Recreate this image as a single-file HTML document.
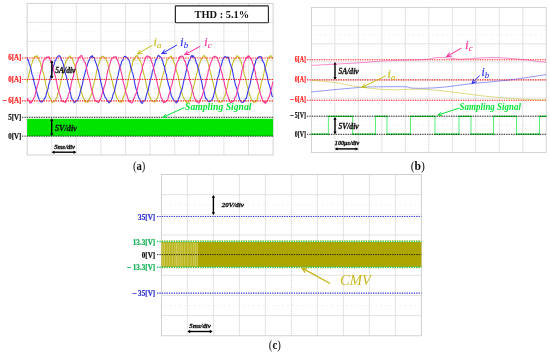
<!DOCTYPE html>
<html><head><meta charset="utf-8"><title>Figure</title>
<style>
html,body{margin:0;padding:0;background:#fff;}
body{width:550px;height:355px;overflow:hidden;}
svg{display:block;font-family:"Liberation Serif","DejaVu Serif",serif;}
</style></head><body>
<svg width="550" height="355" viewBox="0 0 550 355">
<rect width="550" height="355" fill="#fff"/>
<line x1="51.7" y1="3.4" x2="51.7" y2="155" stroke="#dcdcdc" stroke-width="0.8"/>
<line x1="76.3" y1="3.4" x2="76.3" y2="155" stroke="#dcdcdc" stroke-width="0.8"/>
<line x1="100.9" y1="3.4" x2="100.9" y2="155" stroke="#dcdcdc" stroke-width="0.8"/>
<line x1="125.5" y1="3.4" x2="125.5" y2="155" stroke="#dcdcdc" stroke-width="0.8"/>
<line x1="150.1" y1="3.4" x2="150.1" y2="155" stroke="#bcbcbc" stroke-width="0.8" stroke-dasharray="1.1 1.1"/>
<line x1="174.7" y1="3.4" x2="174.7" y2="155" stroke="#dcdcdc" stroke-width="0.8"/>
<line x1="199.3" y1="3.4" x2="199.3" y2="155" stroke="#dcdcdc" stroke-width="0.8"/>
<line x1="223.9" y1="3.4" x2="223.9" y2="155" stroke="#dcdcdc" stroke-width="0.8"/>
<line x1="248.5" y1="3.4" x2="248.5" y2="155" stroke="#dcdcdc" stroke-width="0.8"/>
<line x1="27.1" y1="22.35" x2="273.1" y2="22.35" stroke="#dcdcdc" stroke-width="0.8"/>
<line x1="27.1" y1="41.3" x2="273.1" y2="41.3" stroke="#dcdcdc" stroke-width="0.8"/>
<line x1="27.1" y1="60.25" x2="273.1" y2="60.25" stroke="#dcdcdc" stroke-width="0.8"/>
<line x1="27.1" y1="79.2" x2="273.1" y2="79.2" stroke="#dcdcdc" stroke-width="0.8"/>
<line x1="27.1" y1="98.15" x2="273.1" y2="98.15" stroke="#dcdcdc" stroke-width="0.8"/>
<line x1="27.1" y1="117.1" x2="273.1" y2="117.1" stroke="#dcdcdc" stroke-width="0.8"/>
<line x1="27.1" y1="136.05" x2="273.1" y2="136.05" stroke="#dcdcdc" stroke-width="0.8"/>
<line x1="30.1" y1="31.82" x2="270.1" y2="31.82" stroke="#ededed" stroke-width="0.7" stroke-dasharray="2 2.9"/>
<line x1="30.1" y1="126.58" x2="270.1" y2="126.58" stroke="#ededed" stroke-width="0.7" stroke-dasharray="2 2.9"/>
<rect x="27.1" y="3.4" width="246" height="151.6" fill="none" stroke="#cccccc" stroke-width="0.9"/>
<rect x="27.1" y="118.8" width="246" height="17.4" fill="#00e400"/>
<polyline points="27.1,82.46 27.8,79.07 28.5,77.16 29.2,72.91 29.9,71.05 30.6,67.94 31.3,64.72 32,63.4 32.7,60.33 33.4,59.47 34.1,57.28 34.8,56.3 35.5,56.39 36.2,57.02 36.9,55.62 37.6,56.37 38.3,58.18 39,60.17 39.7,60.99 40.4,62.54 41.1,66.06 41.8,66.49 42.5,70.96 43.2,72.56 43.9,75.19 44.6,78.14 45.3,81.57 46,85.65 46.7,87.12 47.4,90.73 48.1,93.39 48.8,95.09 49.5,97.49 50.2,98.13 50.9,99.49 51.6,100.81 52.3,102.47 53,102.14 53.7,101.72 54.4,101.75 55.1,100.52 55.8,98.87 56.5,98.3 57.2,96.12 57.9,92.86 58.6,91.09 59.3,88.28 60,86.2 60.7,82.92 61.4,78.94 62.1,77.45 62.8,72.59 63.5,70.39 64.2,68.43 64.9,64.58 65.6,63.05 66.3,60.07 67,59.77 67.7,58.64 68.4,57.25 69.1,57.32 69.8,55.89 70.5,56.93 71.2,57.3 71.9,58.24 72.6,59.3 73.3,61.83 74,64.05 74.7,65.29 75.4,68.22 76.1,69.61 76.8,73.88 77.5,76.72 78.2,80.49 78.9,83.13 79.6,84.9 80.3,87.97 81,91.3 81.7,92.37 82.4,95.59 83.1,96.92 83.8,98.47 84.5,99.65 85.2,102.16 85.9,101.31 86.6,101.74 87.3,101.83 88,102.27 88.7,99.53 89.4,98.98 90.1,97.5 90.8,96.22 91.5,93.78 92.2,91.35 92.9,87.34 93.6,84.77 94.3,81.68 95,79.82 95.7,76.98 96.4,72.25 97.1,69.46 97.8,66.9 98.5,64.42 99.2,62.74 99.9,61.02 100.6,58.66 101.3,56.81 102,56.8 102.7,56.16 103.4,56.45 104.1,57.56 104.8,57.62 105.5,58.26 106.2,59.88 106.9,61.73 107.6,62.4 108.3,66.57 109,68.85 109.7,71.8 110.4,74.51 111.1,76.59 111.8,79.62 112.5,81.97 113.2,86.08 113.9,87.66 114.6,90.34 115.3,93.12 116,95.23 116.7,97.56 117.4,98.53 118.1,99.68 118.8,100.9 119.5,101.3 120.2,101.99 120.9,100.96 121.6,102.16 122.3,100.53 123,98.1 123.7,96.57 124.4,94.72 125.1,92.43 125.8,89.34 126.5,88.19 127.2,85.62 127.9,81.49 128.6,78.51 129.3,74.63 130,71.73 130.7,69.43 131.4,66.6 132.1,65.4 132.8,61.73 133.5,59.52 134.2,59.97 134.9,57.81 135.6,56.1 136.3,56.5 137,55.28 137.7,56.69 138.4,58.38 139.1,59.21 139.8,60.28 140.5,61.09 141.2,63.4 141.9,65.31 142.6,69.22 143.3,71.45 144,74.89 144.7,76.88 145.4,79.66 146.1,83.96 146.8,87.27 147.5,89.79 148.2,92.33 148.9,94.79 149.6,96.8 150.3,97.56 151,99.76 151.7,100.61 152.4,100.73 153.1,101.18 153.8,101.79 154.5,101.41 155.2,101.63 155.9,101.11 156.6,98.52 157.3,97.8 158,95.82 158.7,93.38 159.4,89.49 160.1,86.4 160.8,83.52 161.5,80.46 162.2,77.46 162.9,75.39 163.6,73.07 164.3,70.14 165,66.71 165.7,64.68 166.4,62.84 167.1,59.41 167.8,59.14 168.5,58.5 169.2,57.41 169.9,56.92 170.6,56.29 171.3,56 172,58.1 172.7,58.22 173.4,60.74 174.1,62.94 174.8,63.79 175.5,66.18 176.2,69.99 176.9,72.28 177.6,73.97 178.3,76.86 179,79.93 179.7,84.59 180.4,87.29 181.1,88.63 181.8,92.74 182.5,95.48 183.2,96.91 183.9,98.07 184.6,100.02 185.3,100.26 186,100.79 186.7,103.29 187.4,102.58 188.1,101.91 188.8,102.03 189.5,99.77 190.2,99.22 190.9,97.28 191.6,93.79 192.3,91.48 193,88.95 193.7,86.04 194.4,83.88 195.1,80.17 195.8,77.51 196.5,73.88 197.2,72.69 197.9,68.68 198.6,66.31 199.3,64.2 200,62.79 200.7,59.9 201.4,59.51 202.1,57.46 202.8,56.77 203.5,56.39 204.2,55.31 204.9,56.66 205.6,56.9 206.3,57.69 207,60.98 207.7,61.46 208.4,64.28 209.1,67.25 209.8,69.51 210.5,71.81 211.2,75.16 211.9,78.24 212.6,81.76 213.3,83.25 214,87.15 214.7,89.24 215.4,91.89 216.1,95.34 216.8,96.86 217.5,98.77 218.2,100.67 218.9,102.11 219.6,101.81 220.3,102.52 221,102.23 221.7,101.79 222.4,101.35 223.1,99.61 223.8,98.23 224.5,96.22 225.2,95.06 225.9,92.1 226.6,89.84 227.3,87.17 228,82.74 228.7,80.4 229.4,78.23 230.1,75.02 230.8,70.58 231.5,67.79 232.2,65.92 232.9,62.76 233.6,61.05 234.3,58.91 235,58.78 235.7,57.95 236.4,57.5 237.1,55.56 237.8,56.88 238.5,57.23 239.2,56.96 239.9,59.82 240.6,61.6 241.3,61.86 242,65.67 242.7,66.9 243.4,69.75 244.1,73.68 244.8,76.27 245.5,77.8 246.2,81.41 246.9,84.57 247.6,87.07 248.3,89.5 249,92.33 249.7,95.55 250.4,96.06 251.1,98.99 251.8,100.15 252.5,100.27 253.2,101.64 253.9,102.56 254.6,102.2 255.3,100.71 256,101.85 256.7,100.15 257.4,98.95 258.1,95.11 258.8,93.24 259.5,90.28 260.2,89.24 260.9,85.28 261.6,82.03 262.3,79.67 263,77.73 263.7,74.55 264.4,70.44 265.1,67.47 265.8,66.62 266.5,63.54 267.2,61.79 267.9,58.72 268.6,57.26 269.3,57.62 270,56.39 270.7,55.36 271.4,57.41 272.1,57.28 272.8,58.56" fill="none" stroke="#c4bc18" stroke-width="1.1" stroke-linejoin="round" opacity="0.95"/>
<polyline points="27.1,57.15 27.8,60.18 28.5,60.13 29.2,63.87 29.9,65.25 30.6,67.51 31.3,70.69 32,74.37 32.7,75.89 33.4,78.59 34.1,82.48 34.8,84.8 35.5,87.37 36.2,90.18 36.9,92.43 37.6,95.02 38.3,97.24 39,98.88 39.7,101.19 40.4,101.1 41.1,102.13 41.8,101.59 42.5,101.74 43.2,100.39 43.9,99.91 44.6,98.03 45.3,97.9 46,95.48 46.7,92.4 47.4,90.49 48.1,88.78 48.8,84.09 49.5,82.69 50.2,78.83 50.9,75.96 51.6,73.75 52.3,69.94 53,67.5 53.7,65.42 54.4,63.83 55.1,60.47 55.8,59.92 56.5,58.35 57.2,57.28 57.9,56.24 58.6,55.97 59.3,55.58 60,56.39 60.7,57.29 61.4,60.15 62.1,60.81 62.8,62.64 63.5,64.78 64.2,68.99 64.9,71.79 65.6,74.23 66.3,76.34 67,79.27 67.7,82.39 68.4,85.7 69.1,87.87 69.8,91.18 70.5,93.24 71.2,96.99 71.9,98.95 72.6,99.62 73.3,100.22 74,102.7 74.7,101.76 75.4,101.98 76.1,100.91 76.8,101.07 77.5,100.23 78.2,98.87 78.9,96.46 79.6,95.07 80.3,91.64 81,89.65 81.7,86.52 82.4,84.32 83.1,80.55 83.8,77.49 84.5,75.11 85.2,72.02 85.9,69.97 86.6,67.19 87.3,65.22 88,62.82 88.7,61.04 89.4,59.81 90.1,57.5 90.8,56.5 91.5,57.47 92.2,55.54 92.9,57.12 93.6,57.64 94.3,57.4 95,60.58 95.7,62.48 96.4,63.98 97.1,66.56 97.8,69.31 98.5,70.58 99.2,74.32 99.9,77.26 100.6,81.01 101.3,83.94 102,86.92 102.7,89.2 103.4,92.52 104.1,94.5 104.8,96.7 105.5,97.56 106.2,98.69 106.9,100.12 107.6,101.46 108.3,101.35 109,103.01 109.7,102.06 110.4,101.49 111.1,100.38 111.8,99.04 112.5,96.82 113.2,93.65 113.9,93.03 114.6,90.34 115.3,87.03 116,84.19 116.7,81.48 117.4,77.16 118.1,75.64 118.8,71.65 119.5,68.45 120.2,66.24 120.9,64.85 121.6,61.54 122.3,60.85 123,59.83 123.7,57.59 124.4,56.53 125.1,56.32 125.8,56.74 126.5,57.29 127.2,57.72 127.9,58.91 128.6,59.15 129.3,61.12 130,63.48 130.7,66.93 131.4,68.57 132.1,71.93 132.8,73.62 133.5,76.72 134.2,80.19 134.9,84.07 135.6,87.04 136.3,89.79 137,91.56 137.7,94.46 138.4,96.48 139.1,98.33 139.8,99.07 140.5,101.94 141.2,101.19 141.9,103.3 142.6,103.21 143.3,100.79 144,100.98 144.7,100.62 145.4,99.43 146.1,96.45 146.8,93.91 147.5,91.38 148.2,90.38 148.9,85.98 149.6,83.87 150.3,79.91 151,77.74 151.7,75.69 152.4,70.98 153.1,69.71 153.8,66.42 154.5,64.87 155.2,62.35 155.9,59.49 156.6,59.47 157.3,57.43 158,55.66 158.7,55.24 159.4,56.35 160.1,56.68 160.8,57.16 161.5,57.99 162.2,59.98 162.9,61.78 163.6,65.09 164.3,65.66 165,69.94 165.7,72.94 166.4,74.28 167.1,79.05 167.8,81.6 168.5,85 169.2,86.56 169.9,89.51 170.6,92.14 171.3,95.84 172,97.04 172.7,98.33 173.4,99.94 174.1,100.71 174.8,100.94 175.5,101.4 176.2,102.95 176.9,101.3 177.6,101.89 178.3,99.17 179,97.64 179.7,96.3 180.4,93.41 181.1,91.38 181.8,90.02 182.5,87.05 183.2,83.96 183.9,80.56 184.6,78.16 185.3,75.24 186,71.49 186.7,69.1 187.4,65.05 188.1,64.21 188.8,61.51 189.5,60.4 190.2,58.72 190.9,56.86 191.6,55.63 192.3,57.26 193,55.58 193.7,56.82 194.4,57.4 195.1,58.54 195.8,61.09 196.5,63.52 197.2,64.14 197.9,67.47 198.6,69.34 199.3,72.73 200,75.31 200.7,77.81 201.4,80.82 202.1,83.9 202.8,88.32 203.5,90.17 204.2,92.12 204.9,95.95 205.6,98.21 206.3,98.76 207,99.49 207.7,100.66 208.4,101.11 209.1,101.94 209.8,101.28 210.5,101.1 211.2,100.25 211.9,99.67 212.6,98.76 213.3,96.53 214,93.57 214.7,91.11 215.4,88.68 216.1,85.52 216.8,82.49 217.5,78.88 218.2,76.33 218.9,74.88 219.6,70.15 220.3,68.25 221,65.98 221.7,64.18 222.4,60.72 223.1,59.12 223.8,57.68 224.5,56.98 225.2,56.44 225.9,57.3 226.6,57.21 227.3,57.8 228,56.85 228.7,58.16 229.4,61.28 230.1,63.64 230.8,64.95 231.5,67.68 232.2,69.08 232.9,72.78 233.6,76.91 234.3,79.69 235,82.77 235.7,86 236.4,87.27 237.1,89.69 237.8,92.32 238.5,95.42 239.2,97.79 239.9,100.06 240.6,100.94 241.3,101.78 242,102.66 242.7,102.21 243.4,102.24 244.1,100.55 244.8,101.24 245.5,98.72 246.2,98.57 246.9,96 247.6,92.99 248.3,90.11 249,87.68 249.7,85.67 250.4,82.85 251.1,78.55 251.8,75.45 252.5,73.49 253.2,70.76 253.9,67.62 254.6,64.74 255.3,63.3 256,60 256.7,58.96 257.4,57.97 258.1,58.1 258.8,56.82 259.5,57.14 260.2,56.44 260.9,56.5 261.6,57.5 262.3,60.41 263,61.53 263.7,62.65 264.4,64.3 265.1,67.86 265.8,70.96 266.5,73.26 267.2,75.86 267.9,79.78 268.6,83.35 269.3,84.77 270,87.2 270.7,90.57 271.4,93.25 272.1,96.08 272.8,96.99" fill="none" stroke="#2a2af2" stroke-width="1.1" stroke-linejoin="round" opacity="0.95"/>
<polyline points="27.1,98.04 27.8,99.62 28.5,100.47 29.2,100.81 29.9,103.11 30.6,101.88 31.3,102.83 32,100.97 32.7,100.01 33.4,99.88 34.1,97.2 34.8,96.67 35.5,93.41 36.2,90.24 36.9,87.62 37.6,85.19 38.3,82.78 39,80.4 39.7,75.62 40.4,73.2 41.1,69.94 41.8,68.91 42.5,64.56 43.2,62.09 43.9,60.11 44.6,59.16 45.3,58.94 46,57.93 46.7,57.01 47.4,57.39 48.1,57.45 48.8,56.71 49.5,57.37 50.2,60.36 50.9,61.62 51.6,62.04 52.3,65.71 53,67.6 53.7,70.3 54.4,73.06 55.1,75.67 55.8,78.31 56.5,81.93 57.2,85.05 57.9,89.23 58.6,90.1 59.3,94.44 60,95.03 60.7,97.34 61.4,100.02 62.1,101.33 62.8,101.42 63.5,101.14 64.2,102.24 64.9,101.79 65.6,102.38 66.3,99.78 67,98.79 67.7,98.26 68.4,94.34 69.1,92.88 69.8,91.24 70.5,88.41 71.2,83.95 71.9,80.97 72.6,78.01 73.3,76.89 74,72.48 74.7,70.72 75.4,68.37 76.1,64.65 76.8,62.27 77.5,61.83 78.2,59.44 78.9,57.38 79.6,57.46 80.3,56.04 81,55.81 81.7,55.47 82.4,57.77 83.1,59.15 83.8,59.91 84.5,62.32 85.2,62.34 85.9,65.11 86.6,68.18 87.3,71.98 88,74.85 88.7,76.57 89.4,79.29 90.1,82.69 90.8,85.77 91.5,89.56 92.2,90.6 92.9,94.43 93.6,96.5 94.3,98.62 95,100.12 95.7,101.01 96.4,101.29 97.1,101.78 97.8,101.99 98.5,102.63 99.2,100.41 99.9,99.62 100.6,99.42 101.3,96.56 102,94.1 102.7,91.71 103.4,90.29 104.1,87.04 104.8,85.59 105.5,82.4 106.2,79.62 106.9,75.03 107.6,71.69 108.3,68.89 109,67.12 109.7,65.13 110.4,62.36 111.1,59.98 111.8,58.8 112.5,58.01 113.2,57.26 113.9,56.95 114.6,57.08 115.3,56.99 116,56.49 116.7,59.16 117.4,59.39 118.1,61.77 118.8,63.42 119.5,66.57 120.2,67.96 120.9,70.82 121.6,73.71 122.3,76.49 123,81.12 123.7,83.44 124.4,85.82 125.1,88.79 125.8,92.74 126.5,94.11 127.2,95.68 127.9,98.84 128.6,100.06 129.3,102.01 130,100.89 130.7,102.16 131.4,102.98 132.1,102.69 132.8,102.12 133.5,99.09 134.2,98.18 134.9,96 135.6,94.06 136.3,93.42 137,89.97 137.7,87.97 138.4,83.84 139.1,81.94 139.8,78 140.5,74.59 141.2,72.8 141.9,70.37 142.6,65.89 143.3,64.55 144,62.45 144.7,59.7 145.4,58.49 146.1,56.81 146.8,56.14 147.5,55.83 148.2,56.56 148.9,57.04 149.6,56.81 150.3,57.52 151,59.7 151.7,62.29 152.4,63.32 153.1,65.99 153.8,68.35 154.5,72.43 155.2,74.8 155.9,76.72 156.6,79.82 157.3,83.46 158,86.72 158.7,89.71 159.4,91.12 160.1,93.68 160.8,96.99 161.5,98.2 162.2,99.44 162.9,100.65 163.6,102.85 164.3,101.84 165,102.4 165.7,101.54 166.4,100.89 167.1,100.72 167.8,99.49 168.5,96.26 169.2,93.75 169.9,92.52 170.6,88.75 171.3,85.53 172,84.58 172.7,80.53 173.4,78.39 174.1,74.49 174.8,72.63 175.5,68.92 176.2,65.66 176.9,62.95 177.6,62.01 178.3,60.39 179,59.49 179.7,56.56 180.4,56.97 181.1,56.05 181.8,56.37 182.5,56.01 183.2,57.12 183.9,58.83 184.6,61.26 185.3,61.32 186,64.32 186.7,67.43 187.4,70.42 188.1,71.53 188.8,74.3 189.5,79.09 190.2,82.18 190.9,84.08 191.6,86.04 192.3,90.73 193,92.13 193.7,95.63 194.4,97.11 195.1,99.35 195.8,99.35 196.5,101.84 197.2,101.32 197.9,102.06 198.6,102.98 199.3,102.49 200,100.23 200.7,99.1 201.4,97.94 202.1,96.31 202.8,93.84 203.5,90.83 204.2,88.46 204.9,86.7 205.6,84.14 206.3,79.26 207,77.39 207.7,74.84 208.4,70.36 209.1,69.36 209.8,65.2 210.5,63.92 211.2,61.73 211.9,60.13 212.6,57.98 213.3,57.15 214,56.81 214.7,56.15 215.4,56.75 216.1,56.76 216.8,57.61 217.5,57.93 218.2,60.83 218.9,62.45 219.6,64.09 220.3,67.7 221,70.4 221.7,72.51 222.4,74.84 223.1,78.49 223.8,80.7 224.5,83.72 225.2,87.27 225.9,89.27 226.6,92.6 227.3,95.08 228,96.11 228.7,99.17 229.4,99.36 230.1,101.85 230.8,102.62 231.5,102.32 232.2,101.2 232.9,101.68 233.6,100.51 234.3,100.51 235,97.11 235.7,96.76 236.4,94.85 237.1,91.81 237.8,89.32 238.5,85.12 239.2,83.9 239.9,79.82 240.6,77.83 241.3,74.77 242,70.24 242.7,68.87 243.4,66.64 244.1,62.43 244.8,61.02 245.5,60.18 246.2,57.48 246.9,58.08 247.6,56.06 248.3,57 249,55.66 249.7,56.99 250.4,58.82 251.1,58.54 251.8,60.3 252.5,62.79 253.2,64.61 253.9,66.47 254.6,69.48 255.3,72.27 256,76.93 256.7,79.37 257.4,82.86 258.1,84.23 258.8,88.45 259.5,89.7 260.2,93.15 260.9,95.67 261.6,97.08 262.3,99.91 263,100.58 263.7,101.63 264.4,102.91 265.1,101.43 265.8,103.21 266.5,101.85 267.2,100.39 267.9,99.96 268.6,97.13 269.3,96.76 270,93.59 270.7,90.62 271.4,88.81 272.1,85.25 272.8,81.71" fill="none" stroke="#fa2a98" stroke-width="1.1" stroke-linejoin="round" opacity="0.95"/>
<line x1="22" y1="58" x2="273.1" y2="58" stroke="#ff1c1c" stroke-width="1.1" stroke-dasharray="1.3 1.1"/>
<line x1="22" y1="79.5" x2="273.1" y2="79.5" stroke="#ff1c1c" stroke-width="1.1" stroke-dasharray="1.3 1.1"/>
<line x1="22" y1="100.9" x2="273.1" y2="100.9" stroke="#ff1c1c" stroke-width="1.1" stroke-dasharray="1.3 1.1"/>
<line x1="22" y1="117.3" x2="273.1" y2="117.3" stroke="#111" stroke-width="0.9" stroke-dasharray="1.3 1.1"/>
<line x1="22" y1="136.1" x2="273.1" y2="136.1" stroke="#111" stroke-width="0.9" stroke-dasharray="1.3 1.1"/>
<text x="0" y="0" font-size="7.3" fill="#ff1c1c" text-anchor="end" style="font-weight:bold;" stroke="#ff1c1c" stroke-width="0.2" transform="translate(21.3 60.2) scale(0.95 1)">6[A]</text>
<text x="0" y="0" font-size="7.3" fill="#ff1c1c" text-anchor="end" style="font-weight:bold;" stroke="#ff1c1c" stroke-width="0.2" transform="translate(21.3 81.8) scale(0.95 1)">0[A]</text>
<text x="0" y="0" font-size="7.3" fill="#ff1c1c" text-anchor="end" style="font-weight:bold;" stroke="#ff1c1c" stroke-width="0.2" transform="translate(21.3 103.3) scale(0.95 1)"><tspan dy="-1.3">–</tspan><tspan dy="1.3"> </tspan>6[A]</text>
<text x="0" y="0" font-size="7.3" fill="#111" text-anchor="end" style="font-weight:bold;" stroke="#111" stroke-width="0.2" transform="translate(21.3 120) scale(0.95 1)">5[V]</text>
<text x="0" y="0" font-size="7.3" fill="#111" text-anchor="end" style="font-weight:bold;" stroke="#111" stroke-width="0.2" transform="translate(21.3 138.7) scale(0.95 1)">0[V]</text>
<line x1="51.8" y1="61.2" x2="51.8" y2="77.8" stroke="#000" stroke-width="1.4"/><path d="M51.8 60.2l1.7 2.72h-3.4z M51.8 78.8l1.7 -2.72h-3.4z" fill="#000"/>
<text x="55.2" y="73.4" font-size="7.6" fill="#111" text-anchor="start" style="font-weight:bold;font-style:italic;" stroke="#111" stroke-width="0.28">5A/div</text>
<line x1="51.7" y1="119.3" x2="51.7" y2="135.1" stroke="#000" stroke-width="1.4"/><path d="M51.7 118.3l1.7 2.72h-3.4z M51.7 136.1l1.7 -2.72h-3.4z" fill="#000"/>
<text x="55" y="130.6" font-size="8.2" fill="#0a1a0a" text-anchor="start" style="font-weight:bold;font-style:italic;" stroke="#111" stroke-width="0.28">5V/div</text>
<line x1="52.7" y1="152.2" x2="75.3" y2="152.2" stroke="#000" stroke-width="1.4"/><path d="M51.7 152.2l2.72 1.7v-3.4z M76.3 152.2l-2.72 1.7v-3.4z" fill="#000"/>
<text x="64.6" y="148.6" font-size="6.6" fill="#111" text-anchor="middle" style="font-weight:bold;font-style:italic;" stroke="#111" stroke-width="0.28">5ms/div</text>
<rect x="175.4" y="5.9" width="93" height="16.9" fill="#fff" stroke="#222" stroke-width="1.1" rx="0.8"/>
<text x="221.9" y="17.7" font-size="10.4" fill="#111" text-anchor="middle" style="font-weight:bold;" >THD : 5.1%</text>
<text x="153.6" y="46.3" font-size="11.6" fill="#c4bc18" stroke="#c4bc18" stroke-width="0.22" style="font-style:italic">i<tspan font-size="8.8" dy="1.9" dx="0.2" stroke-width="0.08">a</tspan></text>
<path d="M152.1 45.5L137.4 53.9M141.99 53.58L137.4 53.9L140 50.11" fill="none" stroke="#c4bc18" stroke-width="1.0" stroke-linecap="round" stroke-linejoin="round"/>
<text x="180.3" y="46.3" font-size="11.6" fill="#2a2af2" stroke="#2a2af2" stroke-width="0.22" style="font-style:italic">i<tspan font-size="8.8" dy="1.9" dx="0.2" stroke-width="0.08">b</tspan></text>
<path d="M176.6 45.2L161.9 53.6M166.49 53.28L161.9 53.6L164.5 49.81" fill="none" stroke="#2a2af2" stroke-width="1.0" stroke-linecap="round" stroke-linejoin="round"/>
<text x="204.2" y="46.3" font-size="11.6" fill="#fa2a98" stroke="#fa2a98" stroke-width="0.22" style="font-style:italic">i<tspan font-size="8.8" dy="1.9" dx="0.2" stroke-width="0.08">c</tspan></text>
<path d="M200 46.4L184.8 54.6M189.4 54.39L184.8 54.6L187.5 50.87" fill="none" stroke="#fa2a98" stroke-width="1.0" stroke-linecap="round" stroke-linejoin="round"/>
<text x="185" y="110.4" font-size="10.2" fill="#08e238" text-anchor="start" style="font-weight:bold;font-style:italic;" textLength="66.5" lengthAdjust="spacingAndGlyphs">Sampling Signal</text>
<path d="M184.1 107.7L163.2 117.2M166.8 117.28L163.2 117.2L165.5 114.43" fill="none" stroke="#08e238" stroke-width="1.0" stroke-linecap="round" stroke-linejoin="round"/>
<text x="0" y="0" font-size="11.6" fill="#111" text-anchor="middle" style=""  transform="translate(139.2 170) scale(0.92 1)">(<tspan style="font-weight:bold">a</tspan>)</text>
<line x1="334.88" y1="7.6" x2="334.88" y2="152.4" stroke="#dcdcdc" stroke-width="0.8"/>
<line x1="358.36" y1="7.6" x2="358.36" y2="152.4" stroke="#dcdcdc" stroke-width="0.8"/>
<line x1="381.84" y1="7.6" x2="381.84" y2="152.4" stroke="#dcdcdc" stroke-width="0.8"/>
<line x1="405.32" y1="7.6" x2="405.32" y2="152.4" stroke="#dcdcdc" stroke-width="0.8"/>
<line x1="428.8" y1="7.6" x2="428.8" y2="152.4" stroke="#bcbcbc" stroke-width="0.8" stroke-dasharray="1.1 1.1"/>
<line x1="452.28" y1="7.6" x2="452.28" y2="152.4" stroke="#dcdcdc" stroke-width="0.8"/>
<line x1="475.76" y1="7.6" x2="475.76" y2="152.4" stroke="#dcdcdc" stroke-width="0.8"/>
<line x1="499.24" y1="7.6" x2="499.24" y2="152.4" stroke="#dcdcdc" stroke-width="0.8"/>
<line x1="522.72" y1="7.6" x2="522.72" y2="152.4" stroke="#dcdcdc" stroke-width="0.8"/>
<line x1="311.4" y1="25.7" x2="546.2" y2="25.7" stroke="#dcdcdc" stroke-width="0.8"/>
<line x1="311.4" y1="43.8" x2="546.2" y2="43.8" stroke="#dcdcdc" stroke-width="0.8"/>
<line x1="311.4" y1="61.9" x2="546.2" y2="61.9" stroke="#dcdcdc" stroke-width="0.8"/>
<line x1="311.4" y1="80" x2="546.2" y2="80" stroke="#dcdcdc" stroke-width="0.8"/>
<line x1="311.4" y1="98.1" x2="546.2" y2="98.1" stroke="#dcdcdc" stroke-width="0.8"/>
<line x1="311.4" y1="116.2" x2="546.2" y2="116.2" stroke="#dcdcdc" stroke-width="0.8"/>
<line x1="311.4" y1="134.3" x2="546.2" y2="134.3" stroke="#dcdcdc" stroke-width="0.8"/>
<line x1="314.4" y1="34.75" x2="543.2" y2="34.75" stroke="#ededed" stroke-width="0.7" stroke-dasharray="2 2.9"/>
<line x1="314.4" y1="125.25" x2="543.2" y2="125.25" stroke="#ededed" stroke-width="0.7" stroke-dasharray="2 2.9"/>
<rect x="311.4" y="7.6" width="234.8" height="144.8" fill="none" stroke="#cccccc" stroke-width="0.9"/>
<path d="M328.4 134.2V116.4M352.6 116.4V134.2M375.5 134.2V116.4M387 116.4V134.2M410.5 134.2V116.4M435 116.4V134.2M459 134.2V116.4M471 116.4V134.2M493.5 134.2V116.4M516.5 116.4V134.2M539.5 134.2V116.4" fill="none" stroke="#22e848" stroke-width="0.75"/>
<path d="M311.4 134.2H328.4M328.4 116.4H352.6M352.6 134.2H375.5M375.5 116.4H387M387 134.2H410.5M410.5 116.4H435M435 134.2H459M459 116.4H471M471 134.2H493.5M493.5 116.4H516.5M516.5 134.2H539.5M539.5 116.4H546.2" fill="none" stroke="#0cdc2c" stroke-width="1.3" stroke-linecap="square"/>
<line x1="307" y1="59.8" x2="546.2" y2="59.8" stroke="#ff1c1c" stroke-width="1.1" stroke-dasharray="1.3 1.1"/>
<line x1="307" y1="79.9" x2="546.2" y2="79.9" stroke="#ff1c1c" stroke-width="1.1" stroke-dasharray="1.3 1.1"/>
<line x1="307" y1="100.3" x2="546.2" y2="100.3" stroke="#ff1c1c" stroke-width="1.1" stroke-dasharray="1.3 1.1"/>
<line x1="307" y1="116.2" x2="546.2" y2="116.2" stroke="#111" stroke-width="0.9" stroke-dasharray="1.3 1.1"/>
<line x1="307" y1="134.3" x2="546.2" y2="134.3" stroke="#111" stroke-width="0.9" stroke-dasharray="1.3 1.1"/>
<text x="0" y="0" font-size="7.4" fill="#ff1c1c" text-anchor="end" style="font-weight:bold;" stroke="#ff1c1c" stroke-width="0.2" transform="translate(306 61.9) scale(0.8 1)">6[A]</text>
<text x="0" y="0" font-size="7.4" fill="#ff1c1c" text-anchor="end" style="font-weight:bold;" stroke="#ff1c1c" stroke-width="0.2" transform="translate(306 82) scale(0.8 1)">0[A]</text>
<text x="0" y="0" font-size="7.4" fill="#ff1c1c" text-anchor="end" style="font-weight:bold;" stroke="#ff1c1c" stroke-width="0.2" transform="translate(306 102.4) scale(0.8 1)"><tspan dy="-1.3">–</tspan><tspan dy="1.3"> </tspan>6[A]</text>
<text x="0" y="0" font-size="7.4" fill="#111" text-anchor="end" style="font-weight:bold;" stroke="#111" stroke-width="0.2" transform="translate(306 118.4) scale(0.8 1)"><tspan dy="-1.3">–</tspan><tspan dy="1.3"> </tspan>5[V]</text>
<text x="0" y="0" font-size="7.4" fill="#111" text-anchor="end" style="font-weight:bold;" stroke="#111" stroke-width="0.2" transform="translate(306 136.5) scale(0.8 1)">0[V]</text>
<line x1="335" y1="63" x2="335" y2="78.8" stroke="#000" stroke-width="1.4"/><path d="M335 62l1.7 2.72h-3.4z M335 79.8l1.7 -2.72h-3.4z" fill="#000"/>
<text x="338.4" y="74" font-size="7.6" fill="#111" text-anchor="start" style="font-weight:bold;font-style:italic;" stroke="#111" stroke-width="0.28">5A/div</text>
<line x1="335" y1="118" x2="335" y2="133.3" stroke="#000" stroke-width="1.4"/><path d="M335 117l1.7 2.72h-3.4z M335 134.3l1.7 -2.72h-3.4z" fill="#000"/>
<text x="338.4" y="128.6" font-size="7.6" fill="#111" text-anchor="start" style="font-weight:bold;font-style:italic;" stroke="#111" stroke-width="0.28">5V/div</text>
<line x1="335.8" y1="148.9" x2="357.3" y2="148.9" stroke="#000" stroke-width="1.4"/><path d="M334.8 148.9l2.72 1.7v-3.4z M358.3 148.9l-2.72 1.7v-3.4z" fill="#000"/>
<text x="347" y="145.3" font-size="6.2" fill="#111" text-anchor="middle" style="font-weight:bold;font-style:italic;" stroke="#111" stroke-width="0.28">100μs/div</text>
<path d="M311.4 65.4C314.5 65.23,322.13 64.83,330 64.4C337.87 63.97,350.02 63.35,358.6 62.8C367.18 62.25,374.6 61.52,381.5 61.1C388.4 60.68,392.75 60.55,400 60.3C407.25 60.05,419 60.03,425 59.6C431 59.17,432.5 58.02,436 57.7C439.5 57.38,442.83 57.52,446 57.7C449.17 57.88,452.17 58.55,455 58.8C457.83 59.05,458.83 59.33,463 59.2C467.17 59.07,474.67 58.27,480 58C485.33 57.73,490 57.53,495 57.6C500 57.67,505 58.03,510 58.4C515 58.77,518.97 59.15,525 59.8C531.03 60.45,542.67 61.88,546.2 62.3" fill="none" stroke="#fa2a98" stroke-width="0.9" opacity="0.6"/>
<path d="M311.4 92C314.5 91.68,321.58 90.88,330 90.1C338.42 89.32,353.4 87.85,361.9 87.3C370.4 86.75,373.82 86.88,381 86.8C388.18 86.72,399.83 86.58,405 86.8C410.17 87.02,408.33 87.87,412 88.1C415.67 88.33,421.5 88.38,427 88.2C432.5 88.02,437.5 87.77,445 87C452.5 86.23,461.33 84.77,472 83.6C482.67 82.43,496.63 81.5,509 80C521.37 78.5,540 75.5,546.2 74.6" fill="none" stroke="#2a2af2" stroke-width="0.9" opacity="0.55"/>
<path d="M311.4 80.3C315.3 80.67,329.03 81.77,334.8 82.5C340.57 83.23,341.48 83.9,346 84.7C350.52 85.5,356.07 86.53,361.9 87.3C367.73 88.07,375.4 88.88,381 89.3C386.6 89.72,391.17 89.8,395.5 89.8C399.83 89.8,401.75 89.35,407 89.3C412.25 89.25,419.17 89,427 89.5C434.83 90,444.83 91.25,454 92.3C463.17 93.35,472.83 94.8,482 95.8C491.17 96.8,500.83 97.67,509 98.3C517.17 98.93,524.8 99.33,531 99.6C537.2 99.87,543.67 99.85,546.2 99.9" fill="none" stroke="#c4bc18" stroke-width="0.9" opacity="0.6"/>
<text x="387.6" y="77.6" font-size="11.6" fill="#c4bc18" stroke="#c4bc18" stroke-width="0.22" style="font-style:italic">i<tspan font-size="8.8" dy="1.9" dx="0.2" stroke-width="0.08">a</tspan></text>
<path d="M385.6 75.9L361.9 87.3M366.5 87.31L361.9 87.3L364.77 83.7" fill="none" stroke="#c4bc18" stroke-width="1.0" stroke-linecap="round" stroke-linejoin="round"/>
<text x="465.2" y="49" font-size="11.6" fill="#fa2a98" stroke="#fa2a98" stroke-width="0.22" style="font-style:italic">i<tspan font-size="8.8" dy="1.9" dx="0.2" stroke-width="0.08">c</tspan></text>
<path d="M461.1 48.3L446.8 56.5M451.39 56.18L446.8 56.5L449.4 52.7" fill="none" stroke="#fa2a98" stroke-width="1.0" stroke-linecap="round" stroke-linejoin="round"/>
<text x="481.4" y="75.6" font-size="11.6" fill="#2a2af2" stroke="#2a2af2" stroke-width="0.22" style="font-style:italic">i<tspan font-size="8.8" dy="1.9" dx="0.2" stroke-width="0.08">b</tspan></text>
<path d="M479.4 75.7L472.1 83.4M476.4 81.77L472.1 83.4L473.5 79.02" fill="none" stroke="#2a2af2" stroke-width="1.0" stroke-linecap="round" stroke-linejoin="round"/>
<text x="459.6" y="109.5" font-size="9.3" fill="#08e238" text-anchor="start" style="font-weight:bold;font-style:italic;" textLength="61.3" lengthAdjust="spacingAndGlyphs">Sampling Signal</text>
<path d="M459.1 108.1L438.2 115M441.77 115.47L438.2 115L440.79 112.5" fill="none" stroke="#08e238" stroke-width="1.0" stroke-linecap="round" stroke-linejoin="round"/>
<text x="417.8" y="170" font-size="11.7" fill="#111" text-anchor="middle" style="" >(<tspan style="font-weight:bold">b</tspan>)</text>
<line x1="187.4" y1="174.5" x2="187.4" y2="335.78" stroke="#dcdcdc" stroke-width="0.8"/>
<line x1="213.4" y1="174.5" x2="213.4" y2="335.78" stroke="#dcdcdc" stroke-width="0.8"/>
<line x1="239.4" y1="174.5" x2="239.4" y2="335.78" stroke="#dcdcdc" stroke-width="0.8"/>
<line x1="265.4" y1="174.5" x2="265.4" y2="335.78" stroke="#dcdcdc" stroke-width="0.8"/>
<line x1="291.4" y1="174.5" x2="291.4" y2="335.78" stroke="#bcbcbc" stroke-width="0.8" stroke-dasharray="1.1 1.1"/>
<line x1="317.4" y1="174.5" x2="317.4" y2="335.78" stroke="#dcdcdc" stroke-width="0.8"/>
<line x1="343.4" y1="174.5" x2="343.4" y2="335.78" stroke="#dcdcdc" stroke-width="0.8"/>
<line x1="369.4" y1="174.5" x2="369.4" y2="335.78" stroke="#dcdcdc" stroke-width="0.8"/>
<line x1="395.4" y1="174.5" x2="395.4" y2="335.78" stroke="#dcdcdc" stroke-width="0.8"/>
<line x1="161.4" y1="194.66" x2="421.4" y2="194.66" stroke="#dcdcdc" stroke-width="0.8"/>
<line x1="161.4" y1="214.82" x2="421.4" y2="214.82" stroke="#dcdcdc" stroke-width="0.8"/>
<line x1="161.4" y1="234.98" x2="421.4" y2="234.98" stroke="#dcdcdc" stroke-width="0.8"/>
<line x1="161.4" y1="255.14" x2="421.4" y2="255.14" stroke="#dcdcdc" stroke-width="0.8"/>
<line x1="161.4" y1="275.3" x2="421.4" y2="275.3" stroke="#dcdcdc" stroke-width="0.8"/>
<line x1="161.4" y1="295.46" x2="421.4" y2="295.46" stroke="#dcdcdc" stroke-width="0.8"/>
<line x1="161.4" y1="315.62" x2="421.4" y2="315.62" stroke="#dcdcdc" stroke-width="0.8"/>
<line x1="164.4" y1="204.74" x2="418.4" y2="204.74" stroke="#ededed" stroke-width="0.7" stroke-dasharray="2 2.9"/>
<line x1="164.4" y1="305.54" x2="418.4" y2="305.54" stroke="#ededed" stroke-width="0.7" stroke-dasharray="2 2.9"/>
<rect x="161.4" y="174.5" width="260" height="161.28" fill="none" stroke="#cccccc" stroke-width="0.9"/>
<rect x="161.4" y="242" width="260" height="25" fill="#ada600"/>
<rect x="161.4" y="242" width="36.5" height="25" fill="#d8d460" opacity="0.3"/>
<path d="M162.9 243V266M164.5 243V266M167.1 243V266M169.7 243V266M172.3 243V266M174.9 243V266M176.5 243V266M178.1 243V266M180.1 243V266M182.1 243V266M184.7 243V266M187.9 243V266M191.1 243V266M193.7 243V266M195.3 243V266M197.3 243V266" stroke="#dad672" stroke-width="0.7" fill="none"/>
<line x1="161.4" y1="240.6" x2="421.4" y2="240.6" stroke="#d8d058" stroke-width="1.2" stroke-dasharray="1.3 1.1"/>
<line x1="161.4" y1="268" x2="421.4" y2="268" stroke="#dcd668" stroke-width="1.0" stroke-dasharray="1.3 1.1"/>
<line x1="157" y1="216.5" x2="421.4" y2="216.5" stroke="#3333dd" stroke-width="1.1" stroke-dasharray="1.3 1.1"/>
<line x1="157" y1="293.1" x2="421.4" y2="293.1" stroke="#3333dd" stroke-width="1.1" stroke-dasharray="1.3 1.1"/>
<line x1="157" y1="241.5" x2="421.4" y2="241.5" stroke="#1cc468" stroke-width="1.4" stroke-dasharray="1.3 1.1"/>
<line x1="157" y1="267.2" x2="421.4" y2="267.2" stroke="#1cc468" stroke-width="1.4" stroke-dasharray="1.3 1.1"/>
<line x1="157" y1="254.6" x2="421.4" y2="254.6" stroke="#111" stroke-width="0.9" stroke-dasharray="1.3 1.1"/>
<text x="0" y="0" font-size="7.4" fill="#3030d0" text-anchor="end" style="font-weight:bold;" stroke="#3030d0" stroke-width="0.2" transform="translate(155.2 219.5) scale(0.97 1)">35[V]</text>
<text x="0" y="0" font-size="7.4" fill="#3030d0" text-anchor="end" style="font-weight:bold;" stroke="#3030d0" stroke-width="0.2" transform="translate(155.2 296.1) scale(0.97 1)"><tspan dy="-1.3">–</tspan><tspan dy="1.3"> </tspan>35[V]</text>
<text x="0" y="0" font-size="7.4" fill="#10b050" text-anchor="end" style="font-weight:bold;" stroke="#10b050" stroke-width="0.2" transform="translate(155.2 244.5) scale(0.97 1)">13.3[V]</text>
<text x="0" y="0" font-size="7.4" fill="#10b050" text-anchor="end" style="font-weight:bold;" stroke="#10b050" stroke-width="0.2" transform="translate(155.2 270.2) scale(0.97 1)"><tspan dy="-1.3">–</tspan><tspan dy="1.3"> </tspan>13.3[V]</text>
<text x="0" y="0" font-size="7.4" fill="#111" text-anchor="end" style="font-weight:bold;" stroke="#111" stroke-width="0.2" transform="translate(155.2 257.6) scale(0.97 1)">0[V]</text>
<line x1="213.4" y1="196" x2="213.4" y2="214" stroke="#000" stroke-width="1.4"/><path d="M213.4 195l1.7 2.72h-3.4z M213.4 215l1.7 -2.72h-3.4z" fill="#000"/>
<text x="221.7" y="207.3" font-size="7.0" fill="#111" text-anchor="start" style="font-weight:bold;font-style:italic;" stroke="#111" stroke-width="0.28">20V/div</text>
<line x1="188.5" y1="331.5" x2="211.5" y2="331.5" stroke="#000" stroke-width="1.4"/><path d="M187.5 331.5l2.72 1.7v-3.4z M212.5 331.5l-2.72 1.7v-3.4z" fill="#000"/>
<text x="200" y="327.6" font-size="6.8" fill="#111" text-anchor="middle" style="font-weight:bold;font-style:italic;" stroke="#111" stroke-width="0.28">5ms/div</text>
<text x="340" y="285" font-size="14.7" fill="#c8b61c" text-anchor="start" style="font-style:italic;" >CMV</text>
<path d="M329.6 283.2L301.8 267.9M304.81 272.14L301.8 267.9L306.99 268.18" fill="none" stroke="#c4b214" stroke-width="1.3" stroke-linecap="round" stroke-linejoin="round"/>
<text x="0" y="0" font-size="11.6" fill="#111" text-anchor="middle" style=""  transform="translate(274.8 348.9) scale(0.94 1)">(<tspan style="font-weight:bold">c</tspan>)</text>
</svg>
</body></html>
